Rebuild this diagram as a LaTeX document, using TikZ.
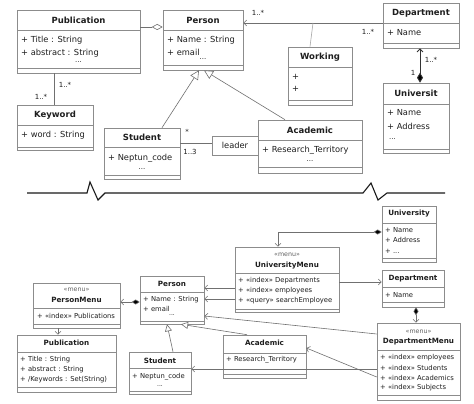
\documentclass[tikz,border=0pt]{standalone}
\usepackage{fontspec}
\setmainfont{DejaVu Sans}
\usetikzlibrary{arrows.meta}
\definecolor{boxgray}{HTML}{8C8C8C}
\definecolor{linegray}{HTML}{707070}
\definecolor{txt}{HTML}{1E1E1E}
\newcommand\umlcls[7]{%
  \node[clsbox, minimum width={(#4-#2)*1pt}, minimum height={(#5-#3)*1pt}] (#1) at ({(#2+#4)/2},{(#3+#5)/2}) {};
  \draw[sepline] (#2,#6) -- (#4,#6) (#2,#7) -- (#4,#7);%
}
\begin{document}
\begin{tikzpicture}[x=1pt,y=-1pt,
  clsbox/.style={draw=boxgray, fill=white, line width=0.6pt, inner sep=0pt, rectangle},
  sepline/.style={draw=boxgray, line width=0.6pt},
  topttl/.style={font=\fontsize{8.5}{9}\selectfont\bfseries, text=txt, inner sep=0pt},
  topattr/.style={font=\fontsize{8.3}{9}\selectfont, text=txt, inner sep=0pt, anchor=west},
  topdots/.style={font=\fontsize{7}{8}\selectfont, text=txt, inner sep=0pt},
  toplbl/.style={font=\fontsize{7}{8}\selectfont, text=txt, inner sep=0pt},
  botttl/.style={font=\fontsize{7.2}{8}\selectfont\bfseries, text=txt, inner sep=0pt},
  botattr/.style={font=\fontsize{6.8}{8}\selectfont, text=txt, inner sep=0pt, anchor=west},
  botdots/.style={font=\fontsize{6}{7}\selectfont, text=txt, inner sep=0pt},
  stereo/.style={font=\fontsize{6.3}{7}\selectfont, text=txt!70, inner sep=0pt},
  conn/.style={draw=linegray, line width=0.6pt},
  nav/.style={conn, -{Straight Barb[length=3pt,width=6pt]}},
  gen/.style={conn, -{Triangle[open,fill=white,length=9pt,width=9pt]}},
  gensmall/.style={conn, -{Triangle[open,fill=white,length=7pt,width=7pt]}},
  aggr/.style={conn, {Diamond[open,fill=white,length=11pt,width=6pt]}-},
  compnav/.style={conn, {Diamond[fill=black,length=8pt,width=5pt]}-{Straight Barb[length=3pt,width=6pt]}},
  compdark/.style={draw=black!80, line width=0.9pt, {Diamond[fill=black,length=10pt,width=6pt]}-{Straight Barb[length=3pt,width=6pt]}},
]
\fill[white] (0,0) rectangle (474,404);
\useasboundingbox (0,0) rectangle (474,404);

% ---------- top half ----------
\umlcls{pubA}{17}{10}{140}{73}{30}{68}
\umlcls{perA}{163}{10}{243}{70}{30}{65}
\umlcls{depA}{383}{3}{459}{48}{23}{43}
\umlcls{wrkA}{288}{47}{352}{105}{67}{100}
\umlcls{uniA}{383}{83}{449}{153}{104}{149}
\umlcls{kwA}{17}{105}{93}{150}{125}{147}
\umlcls{stA}{104}{128}{180}{179}{147}{175}
\umlcls{acA}{258}{120}{362}{173}{140}{167}
\node[clsbox, minimum width=46pt, minimum height=19pt, font=\fontsize{8.3}{9}\selectfont, text=txt] (ldr) at (235,145.5) {leader};

\node[topttl] (pubT) at (78.5,20) {Publication};
\node[topattr] (pubA1) at (21,40) {+ Title : String};
\node[topattr] (pubA2) at (21,53) {+ abstract : String};
\node[topdots] (pubD) at (78.5,62) {...};

\node[topttl] (perT) at (203,20) {Person};
\node[topattr] (perA1) at (167,40) {+ Name : String};
\node[topattr] (perA2) at (167,52) {+ email};
\node[topdots] (perD) at (203,59) {...};

\node[topttl] (depT) at (421,13) {Department};
\node[topattr] (depA1) at (387,33) {+ Name};

\node[topttl] (wrkT) at (320,57) {Working};
\node[topattr] (wrkA1) at (292,77) {+};
\node[topattr] (wrkA2) at (292,89) {+};

\node[topttl] (uniT) at (416,93) {Universit};
\node[topattr] (uniA1) at (387,113) {+ Name};
\node[topattr] (uniA2) at (387,126) {+ Address};
\node[topdots, anchor=west] (uniD) at (389,139) {...};

\node[topttl] (kwT) at (55,115) {Keyword};
\node[topattr] (kwA1) at (21,135) {+ word : String};

\node[topttl] (stT) at (142,137) {Student};
\node[topattr] (stA1) at (108,158) {+ Neptun\_code};
\node[topdots] (stD) at (142,169) {...};

\node[topttl] (acT) at (310,130) {Academic};
\node[topattr] (acA1) at (262,150) {+ Research\_Territory};
\node[topdots] (acD) at (310,161) {...};

% top connectors
\draw[aggr] (perA.west |- 0,27) -- (pubA.east |- 0,27);
\draw[nav] (depA.west |- 0,23) -- (perA.east |- 0,23);
\coordinate (wkj) at (313,23);
\draw[conn, draw=black!35] (wrkA.north -| 310,0) -- (wkj);
\draw[compdark] (uniA.north -| 420,0) -- (depA.south -| 420,0);
\draw[conn] (pubA.south -| 54,0) -- (kwA.north -| 54,0);
\draw[conn] (stA.east |- 0,143) -- (ldr.west |- 0,143);
\draw[gen] (stA.north -| 162,0) -- (perA.south -| 199,0);
\draw[gen] (acA.north -| 285,0) -- (perA.south -| 204,0);

\node[toplbl] (m1) at (258,13) {1..*};
\node[toplbl] (m2) at (368,32) {1..*};
\node[toplbl] (m3) at (431,60) {1..*};
\node[toplbl] (m4) at (413,73) {1};
\node[toplbl] (m5) at (65,85) {1..*};
\node[toplbl] (m6) at (41,97) {1..*};
\node[toplbl] (m7) at (187,132) {*};
\node[toplbl] (m8) at (190,152) {1..3};

% ---------- separator ----------
\draw[line width=1.1pt, black!90, line join=miter] (27,193) -- (87,193) -- (90,182) -- (98,200) -- (105,193) -- (363,193) -- (371,183) -- (378,200) -- (387,193) -- (445,193);

% ---------- bottom half ----------
\umlcls{uniB}{382}{206}{436}{262}{223}{258}
\umlcls{umB}{235}{247}{339}{312}{273}{309}
\umlcls{depB}{382}{270}{444}{307}{287}{302}
\umlcls{dmB}{377}{323}{460}{400}{350}{395}
\umlcls{perB}{140}{276}{204}{324}{292}{321}
\umlcls{pmB}{33}{283}{120}{328}{308}{324}
\umlcls{pubB}{17}{335}{116}{392}{352}{387}
\umlcls{stB}{129}{352}{191}{394}{368}{391}
\umlcls{acB}{223}{335}{306}{378}{353}{374}

\node[botttl] (uniBT) at (409,214) {University};
\node[botattr] (uniBA1) at (385,230) {+ Name};
\node[botattr] (uniBA2) at (385,240) {+ Address};
\node[botattr] (uniBA3) at (385,251) {+ ...};

\node[stereo] (umBs) at (287,255) {«menu»};
\node[botttl] (umBT) at (287,266) {UniversityMenu};
\node[botattr] (umBA1) at (238,281) {+ «index» Departments};
\node[botattr] (umBA2) at (238,291) {+ «index» employees};
\node[botattr] (umBA3) at (238,301) {+ «query» searchEmployee};

\node[botttl] (depBT) at (413,279) {Department};
\node[botattr] (depBA1) at (385,295) {+ Name};

\node[stereo] (dmBs) at (418.5,332) {«menu»};
\node[botttl] (dmBT) at (418.5,342) {DepartmentMenu};
\node[botattr] (dmBA1) at (380,358) {+ «index» employees};
\node[botattr] (dmBA2) at (380,368) {+ «index» Students};
\node[botattr] (dmBA3) at (380,378) {+ «index» Academics};
\node[botattr] (dmBA4) at (380,388) {+ «index» Subjects};

\node[botttl] (perBT) at (172,284) {Person};
\node[botattr] (perBA1) at (143,300) {+ Name : String};
\node[botattr] (perBA2) at (143,309) {+ email};
\node[botdots] (perBD) at (172,315) {...};

\node[stereo] (pmBs) at (76.5,290) {«menu»};
\node[botttl] (pmBT) at (76.5,300) {PersonMenu};
\node[botattr] (pmBA1) at (37,316) {+ «index» Publications};

\node[botttl] (pubBT) at (66.5,343) {Publication};
\node[botattr] (pubBA1) at (20,360) {+ Title : String};
\node[botattr] (pubBA2) at (20,370) {+ abstract : String};
\node[botattr] (pubBA3) at (20,380) {+ /Keywords : Set(String)};

\node[botttl] (stBT) at (160,361) {Student};
\node[botattr] (stBA1) at (132,377) {+ Neptun\_code};
\node[botdots] (stBD) at (160,386) {...};

\node[botttl] (acBT) at (264.5,343) {Academic};
\node[botattr] (acBA1) at (226,360) {+ Research\_Territory};
\node[botdots] (acBD) at (264.5,370) {...};

% bottom connectors
\draw[compnav] (uniB.west |- 0,232) -| (umB.north -| 278,0);
\draw[nav] (umB.east |- 0,282) -- (depB.west |- 0,282);
\draw[compnav] (depB.south -| 416,0) -- (dmB.north -| 416,0);
\draw[nav] (umB.west |- 0,288) -- (perB.east |- 0,288);
\draw[nav] (umB.west |- 0,299) -- (perB.east |- 0,299);
\draw[nav] (dmB.west |- 0,334) -- (perB.east |- 0,316);
\draw[nav] (dmB.west |- 0,377) -- (acB.east |- 0,348);
\draw[nav] (dmB.west |- 0,369) -- (stB.east |- 0,369);
\draw[compnav] (perB.west |- 0,302) -- (pmB.east |- 0,302);
\draw[nav] (pmB.south -| 58,0) -- (pubB.north -| 58,0);
\draw[gensmall] (stB.north -| 173,0) -- (perB.south -| 167,0);
\draw[gensmall] (acB.north -| 247,0) -- (perB.south -| 181,0);
\end{tikzpicture}
\end{document}
